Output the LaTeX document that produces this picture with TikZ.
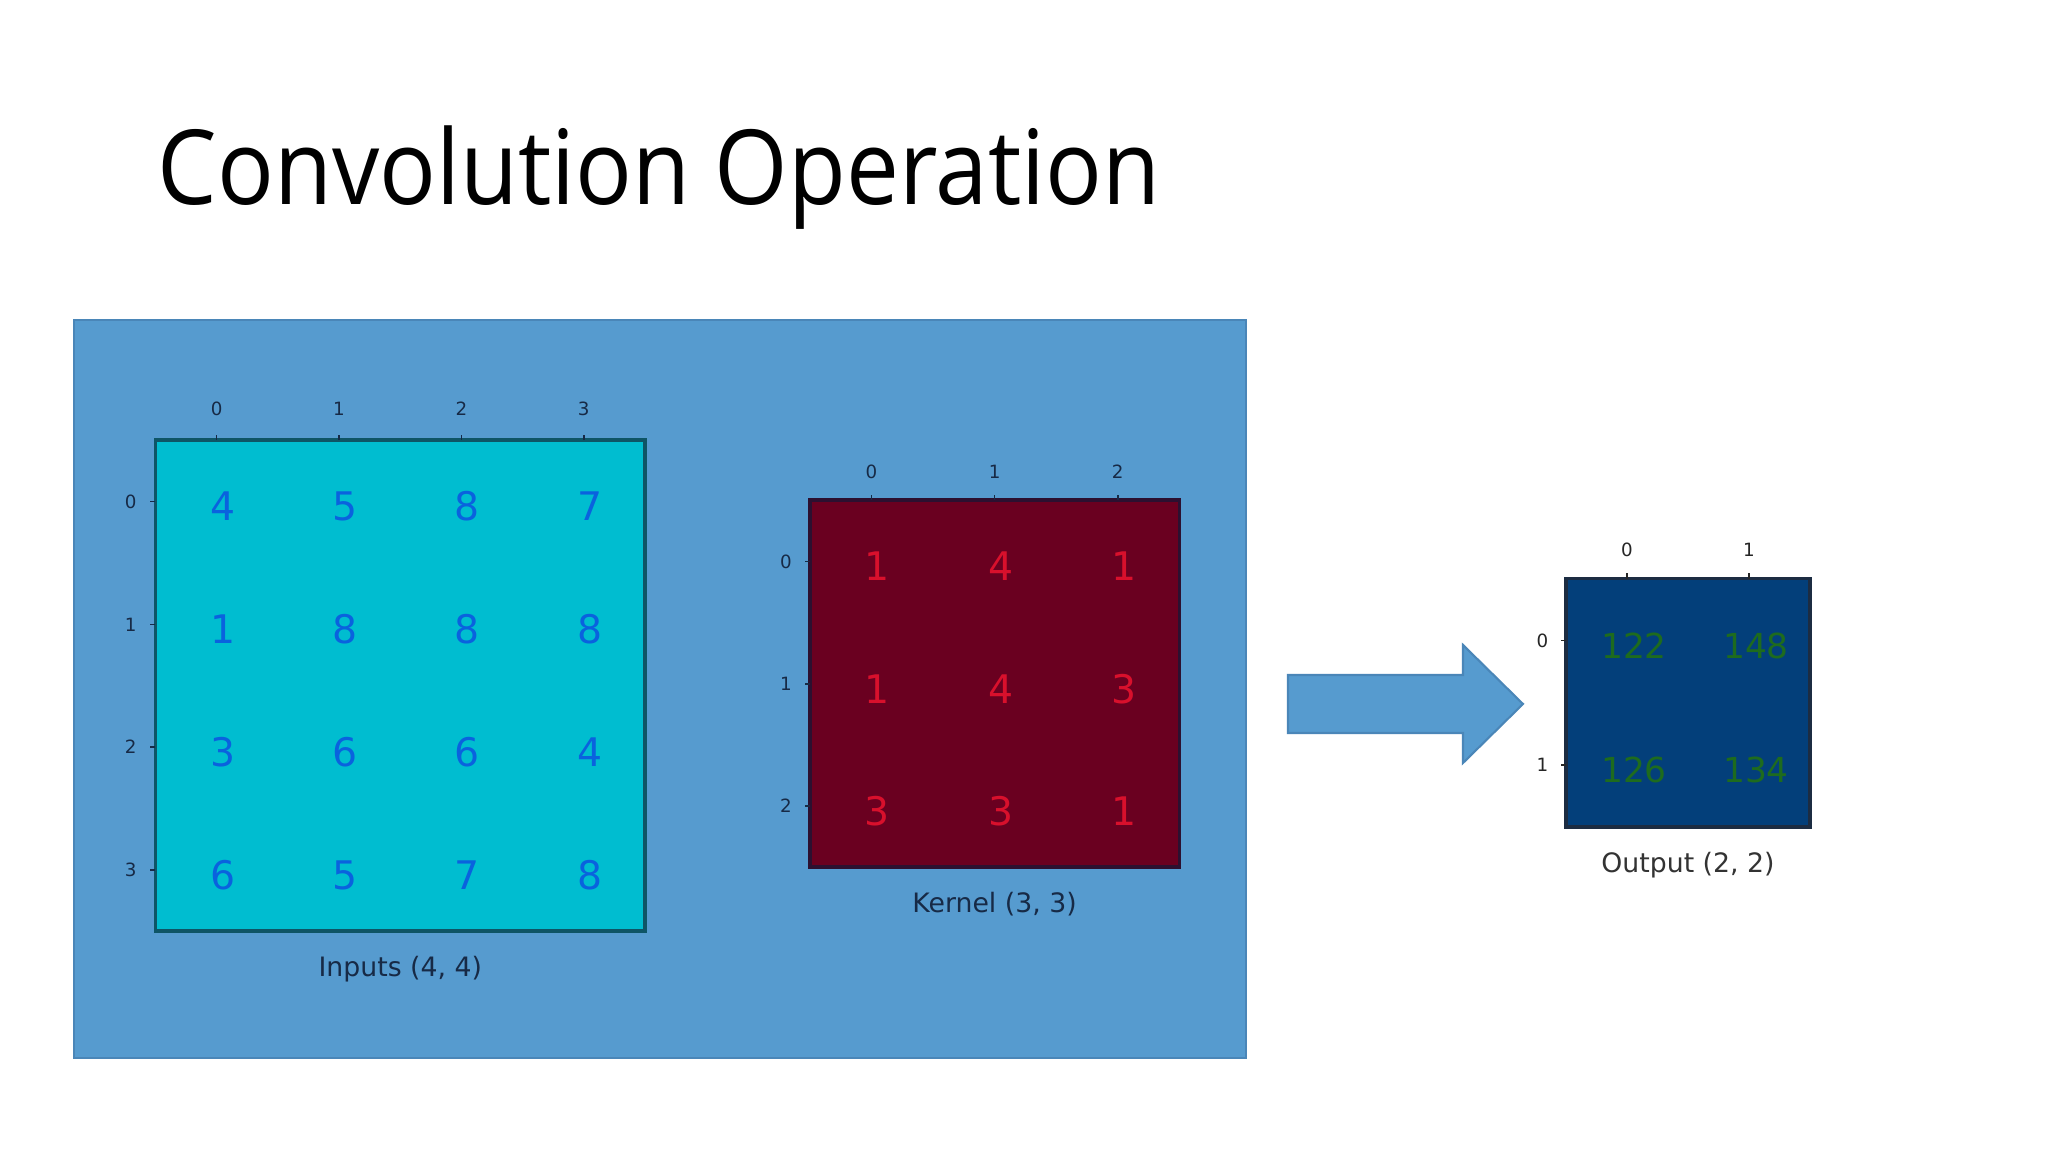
\documentclass[tikz,border=0pt]{standalone}
\usepackage{fontspec}
\setmainfont{Open Sans}
\newfontfamily\plotfont{DejaVu Sans}
\usetikzlibrary{positioning}

\definecolor{panelblue}{HTML}{569BCF}
\definecolor{panelline}{HTML}{4A86B8}
\definecolor{inputfill}{HTML}{00BDD0}
\definecolor{inputline}{HTML}{0E5566}
\definecolor{inputval}{HTML}{0A62DE}
\definecolor{kernelfill}{HTML}{6A0020}
\definecolor{kernelline}{HTML}{2C1030}
\definecolor{kernelval}{HTML}{D8102C}
\definecolor{outputfill}{HTML}{033F7A}
\definecolor{outputline}{HTML}{1C2C42}
\definecolor{outputval}{HTML}{1E6B1E}
\definecolor{ticknavy}{HTML}{172A46}

\begin{document}
\begin{tikzpicture}[x=1cm,y=1cm]
\tikzset{
  matbox/.style={rectangle,line width=1pt,inner sep=0pt},
  ticklab/.style={font=\plotfont\fontsize{5.2}{6}\selectfont,text=ticknavy,inner sep=0pt},
  tickmark/.style={line width=0.5pt,draw=ticknavy},
  cellval/.style={font=\plotfont\fontsize{11.2}{13}\selectfont,inner sep=0pt},
  caption/.style={font=\plotfont\fontsize{7.6}{9}\selectfont,text=ticknavy,inner sep=0pt}
}
\useasboundingbox (0,0) rectangle (20.48,11.52);
\fill[white] (0,0) rectangle (20.48,11.52);

% title
\node[anchor=base west,inner sep=0pt,font=\fontsize{29.5}{34}\selectfont] (n_title) at (1.57,9.47)
  {\scalebox{0.91}[1]{Convolution Operation}};

% panel behind inputs and kernel
\draw[fill=panelblue,draw=panelline,line width=0.6pt] (0.744,0.94) rectangle (12.46,8.32);

% inputs
\node[matbox,fill=inputfill,draw=inputline,minimum width=4.898cm,minimum height=4.911cm] (n_in) at (4.003,4.663) {};
\node[ticklab] (n_inc0) at (2.166,7.43) {0};
\node[ticklab] (n_inc1) at (3.390,7.43) {1};
\node[ticklab] (n_inc2) at (4.614,7.43) {2};
\node[ticklab] (n_inc3) at (5.838,7.43) {3};
\node[ticklab] (n_inr0) at (1.306,6.504) {0};
\node[ticklab] (n_inr1) at (1.306,5.276) {1};
\node[ticklab] (n_inr2) at (1.306,4.048) {2};
\node[ticklab] (n_inr3) at (1.306,2.820) {3};
\draw[tickmark] (2.166,7.118) -- (2.166,7.17);
\draw[tickmark] (3.390,7.118) -- (3.390,7.17);
\draw[tickmark] (4.614,7.118) -- (4.614,7.17);
\draw[tickmark] (5.838,7.118) -- (5.838,7.17);
\draw[tickmark] (1.554,6.504) -- (1.50,6.504);
\draw[tickmark] (1.554,5.276) -- (1.50,5.276);
\draw[tickmark] (1.554,4.048) -- (1.50,4.048);
\draw[tickmark] (1.554,2.820) -- (1.50,2.820);
\node[cellval,text=inputval] (n_in00) at (2.226,6.454) {4};
\node[cellval,text=inputval] (n_in01) at (3.450,6.454) {5};
\node[cellval,text=inputval] (n_in02) at (4.674,6.454) {8};
\node[cellval,text=inputval] (n_in03) at (5.898,6.454) {7};
\node[cellval,text=inputval] (n_in10) at (2.226,5.226) {1};
\node[cellval,text=inputval] (n_in11) at (3.450,5.226) {8};
\node[cellval,text=inputval] (n_in12) at (4.674,5.226) {8};
\node[cellval,text=inputval] (n_in13) at (5.898,5.226) {8};
\node[cellval,text=inputval] (n_in20) at (2.226,3.998) {3};
\node[cellval,text=inputval] (n_in21) at (3.450,3.998) {6};
\node[cellval,text=inputval] (n_in22) at (4.674,3.998) {6};
\node[cellval,text=inputval] (n_in23) at (5.898,3.998) {4};
\node[cellval,text=inputval] (n_in30) at (2.226,2.770) {6};
\node[cellval,text=inputval] (n_in31) at (3.450,2.770) {5};
\node[cellval,text=inputval] (n_in32) at (4.674,2.770) {7};
\node[cellval,text=inputval] (n_in33) at (5.898,2.770) {8};
\node[caption,below=0.23cm of n_in] (n_incap) {Inputs (4, 4)};

% kernel
\node[matbox,fill=kernelfill,draw=kernelline,minimum width=3.696cm,minimum height=3.671cm] (n_k) at (9.946,4.683) {};
\node[ticklab] (n_kc0) at (8.714,6.805) {0};
\node[ticklab] (n_kc1) at (9.946,6.805) {1};
\node[ticklab] (n_kc2) at (11.178,6.805) {2};
\node[ticklab] (n_kr0) at (7.860,5.906) {0};
\node[ticklab] (n_kr1) at (7.860,4.682) {1};
\node[ticklab] (n_kr2) at (7.860,3.458) {2};
\draw[tickmark] (8.714,6.518) -- (8.714,6.57);
\draw[tickmark] (9.946,6.518) -- (9.946,6.57);
\draw[tickmark] (11.178,6.518) -- (11.178,6.57);
\draw[tickmark] (8.098,5.906) -- (8.045,5.906);
\draw[tickmark] (8.098,4.682) -- (8.045,4.682);
\draw[tickmark] (8.098,3.458) -- (8.045,3.458);
\node[cellval,text=kernelval] (n_k00) at (8.774,5.856) {1};
\node[cellval,text=kernelval] (n_k01) at (10.006,5.856) {4};
\node[cellval,text=kernelval] (n_k02) at (11.238,5.856) {1};
\node[cellval,text=kernelval] (n_k10) at (8.774,4.632) {1};
\node[cellval,text=kernelval] (n_k11) at (10.006,4.632) {4};
\node[cellval,text=kernelval] (n_k12) at (11.238,4.632) {3};
\node[cellval,text=kernelval] (n_k20) at (8.774,3.408) {3};
\node[cellval,text=kernelval] (n_k21) at (10.006,3.408) {3};
\node[cellval,text=kernelval] (n_k22) at (11.238,3.408) {1};
\node[caption,below=0.23cm of n_k] (n_kcap) {Kernel (3, 3)};

% arrow
\draw[fill=panelblue,draw=panelline,line width=0.6pt]
  (12.88,4.77) -- (14.63,4.77) -- (14.63,5.07) -- (15.23,4.48)
  -- (14.63,3.89) -- (14.63,4.19) -- (12.88,4.19) -- cycle;

% output
\node[matbox,fill=outputfill,draw=outputline,minimum width=2.44cm,minimum height=2.482cm] (n_out) at (16.88,4.493) {};
\node[ticklab,text=black!85] (n_outc0) at (16.27,6.02) {0};
\node[ticklab,text=black!85] (n_outc1) at (17.49,6.02) {1};
\node[ticklab,text=black!85] (n_outr0) at (15.425,5.114) {0};
\node[ticklab,text=black!85] (n_outr1) at (15.425,3.873) {1};
\draw[tickmark,draw=black!85] (16.27,5.734) -- (16.27,5.786);
\draw[tickmark,draw=black!85] (17.49,5.734) -- (17.49,5.786);
\draw[tickmark,draw=black!85] (15.66,5.114) -- (15.607,5.114);
\draw[tickmark,draw=black!85] (15.66,3.873) -- (15.607,3.873);
\node[cellval,text=outputval,font=\plotfont\fontsize{9.8}{12}\selectfont] (n_out00) at (16.34,5.064) {122};
\node[cellval,text=outputval,font=\plotfont\fontsize{9.8}{12}\selectfont] (n_out01) at (17.56,5.064) {148};
\node[cellval,text=outputval,font=\plotfont\fontsize{9.8}{12}\selectfont] (n_out10) at (16.34,3.823) {126};
\node[cellval,text=outputval,font=\plotfont\fontsize{9.8}{12}\selectfont] (n_out11) at (17.56,3.823) {134};
\node[caption,text=black!80,below=0.23cm of n_out] (n_outcap) {Output (2, 2)};
\end{tikzpicture}
\end{document}
